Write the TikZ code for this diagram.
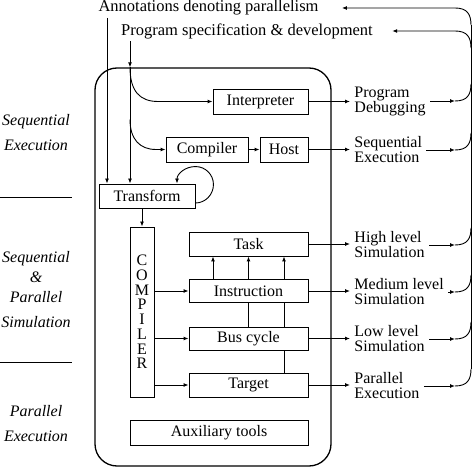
\documentclass[tikz,border=0pt]{standalone}
\usepackage{fontspec}
\setmainfont{Liberation Serif}
\usetikzlibrary{arrows.meta,positioning,calc}

\begin{document}
\begin{tikzpicture}[x=1pt,y=-1pt,line width=0.9pt,
    box/.style={draw, minimum height=24pt, inner sep=0pt, font=\fontsize{16}{16}\selectfont},
    lbl/.style={inner sep=2pt, font=\fontsize{16.5}{16}\selectfont},
    outtxt/.style={anchor=west, align=left, inner sep=4pt, font=\fontsize{16}{15}\selectfont},
    sect/.style={align=center, font=\fontsize{16}{25}\selectfont\itshape},
    arr/.style={-{Latex[length=5pt,width=4pt]}}]
\useasboundingbox (0,0) rectangle (474,470);

% Outer frame
\node[draw, rounded corners=22pt, line width=1.3pt, minimum width=236pt, minimum height=398pt] (frame) at (213,267) {};

% Inputs at the top
\node[lbl] (ann) at (208.5,8) {Annotations denoting parallelism};
\node[lbl] (spec) at (247,31) {Program specification \& development};

% Tools
\node[box, minimum width=95pt, minimum height=25pt] (interp) at (260.5,101.5) {Interpreter};
\node[box, minimum width=82pt, minimum height=25pt] (comp) at (207,149.5) {Compiler};
\node[box, minimum width=48pt, minimum height=25pt] (host) at (284,149.5) {Host};
\node[box, minimum width=96pt] (trans) at (147,196) {Transform};
\node[box, minimum width=24pt, minimum height=170pt, align=center,
      font=\fontsize{16}{14.7}\selectfont] (compv) at (142,312) {C\\O\\M\\P\\I\\L\\E\\R};
\node[box, minimum width=119pt] (task) at (248.5,244) {Task};
\node[box, minimum width=119pt, minimum height=23pt] (instr) at (248.5,291) {Instruction};
\node[box, minimum width=119pt, minimum height=23pt] (bcyc) at (248.5,338.5) {Bus cycle};
\node[box, minimum width=119pt] (targ) at (248.5,385) {Target};
\node[box, minimum width=178pt, minimum height=25pt] (aux) at (219,432.5) {Auxiliary tools};

% Results
\node[outtxt] (pd) at (350,101) {Program\\Debugging};
\node[outtxt] (se) at (350,150) {Sequential\\Execution};
\node[outtxt] (hl) at (350,245) {High level\\Simulation};
\node[outtxt] (ml) at (350,292) {Medium level\\Simulation};
\node[outtxt] (ll) at (350,339) {Low level\\Simulation};
\node[outtxt] (pe) at (350,386) {Parallel\\Execution};

% Phases on the left
\node[sect] (s1) at (36,132.5) {Sequential\\Execution};
\node[sect] (s2) at (36,289.5) {Sequential\\[-5pt]\&\\[-5pt]Parallel\\Simulation};
\node[sect] (s3) at (36,423.5) {Parallel\\Execution};
\draw[line width=0.7pt] (0,197) -- (72,197);
\draw[line width=0.7pt] (0,362) -- (72,362);

% Input arrows
\coordinate (xa) at (107,0);
\coordinate (xs) at (130,0);
\draw[arr] (ann.south -| xa) -- (trans.north -| xa);
\draw[arr] (spec.south -| xs) -- (frame.north -| xs);
\draw[arr] (frame.north -| xs) -- (trans.north -| xs);
\draw[arr] (frame.north -| xs) .. controls +(0,24) and +(-18,0) .. ($(interp.west -| xs)+(28,0)$) -- (interp.west);
\draw[arr] ($(comp.west -| xs)+(0,-30)$) .. controls +(0,20) and +(-16,0) .. ($(comp.west -| xs)+(26,0)$) -- (comp.west);
\draw[arr] (comp) -- (host);

% Transform loop and compiler
\draw[arr] ($(trans.east)+(0,7)$) .. controls +(10,0) and +(0,10) .. ($(trans.north east)+(18,1)$)
    .. controls +(0,-10) and +(10,0) .. ($(trans.north east)+(0,-17)$)
    .. controls +(-10,0) and +(0,-10) .. ($(trans.north)+(30,0)$);
\draw[arr] (trans.south -| compv) -- (compv.north);
\foreach \b in {instr,bcyc,targ}
    \draw[arr] (compv.east |- \b) -- (\b.west);

% Levels
\foreach \dx in {-35.5,0,35.5}
    \draw[arr] ($(instr.north)+(\dx,0)$) -- ($(task.south)+(\dx,0)$);
\foreach \dx in {0,35.5}
    \draw ($(bcyc.north)+(\dx,0)$) -- ($(instr.south)+(\dx,0)$);
\draw ($(targ.north)+(35.5,0)$) -- ($(bcyc.south)+(35.5,0)$);

% Outputs
\foreach \b/\o in {interp/pd,host/se,task/hl,instr/ml,bcyc/ll,targ/pe}
    \draw[arr] (\b.east) -- (\b.east -| \o.west);

% Feedback rail on the right
\coordinate (tip) at (455,0);
\coordinate (rail) at (471,0);
\draw ($(ann.east -| rail)+(0,17)$) -- ($(pe.east -| rail)+(0,-17)$);
\draw[arr] ($(ann.east -| rail)+(0,17)$) .. controls +(0,-11) and +(12,0) .. (ann.east -| tip) -- ($(ann.east)+(21,0)$);
\draw[arr] ($(spec.east -| rail)+(0,17)$) .. controls +(0,-11) and +(12,0) .. (spec.east -| tip) -- ($(spec.east)+(17,0)$);
\foreach \o in {pd,se,hl,ml,ll,pe} {
    \draw[arr] (\o.east) -- (\o.east -| tip);
    \draw (\o.east -| tip) .. controls +(12,0) and +(0,11) .. ($(\o.east -| rail)+(0,-17)$);
}
\end{tikzpicture}
\end{document}
